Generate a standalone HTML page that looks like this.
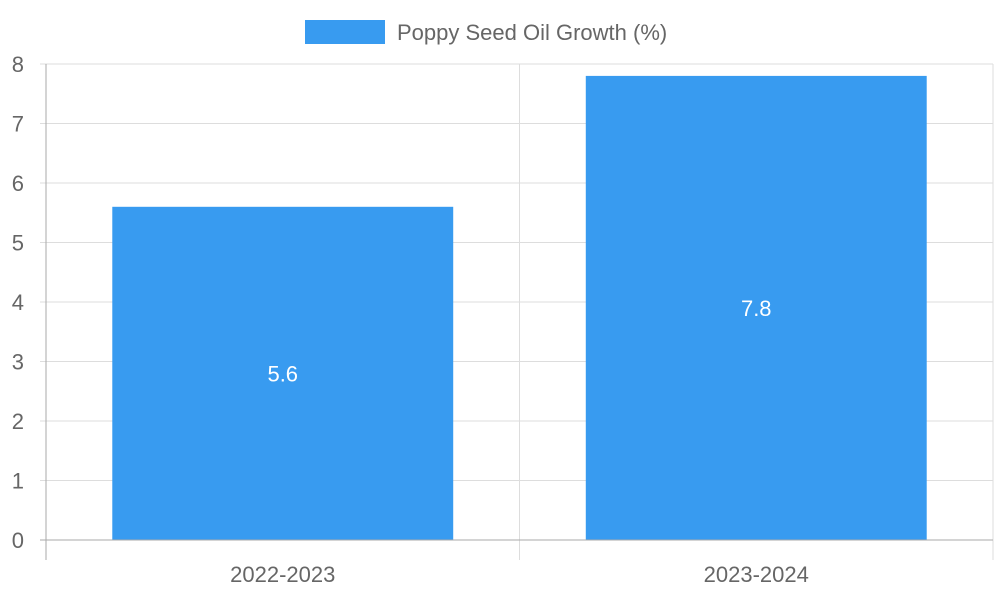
<!DOCTYPE html>
<html><head><meta charset="utf-8">
<style>
html,body{margin:0;padding:0;background:#fff;}
svg{display:block;font-family:"Liberation Sans",sans-serif;}
</style></head>
<body>
<svg id="chart" width="1000" height="600">
  <g id="legend">
    <rect x="305" y="20" width="80" height="24" fill="#389bf0"/>
    <text x="397" y="40" font-size="22" fill="#666">Poppy Seed Oil Growth (%)</text>
  </g>
  <g id="grid"></g>
  <g id="bars"></g>
  <g id="axes"></g>
</svg>
<script>
const categories = ["2022-2023", "2023-2024"];
const values = [5.6, 7.8];
const yTicks = [0, 1, 2, 3, 4, 5, 6, 7, 8];

const NS = "http://www.w3.org/2000/svg";
const L = 46, R = 993, T = 64, B = 540, yMax = 8;
const y = v => B - (v / yMax) * (B - T);
const band = (R - L) / categories.length;
const xc = i => L + band * (i + 0.5);
function mk(tag, attrs, parent) {
  const e = document.createElementNS(NS, tag);
  for (const k in attrs) e.setAttribute(k, attrs[k]);
  parent.appendChild(e);
  return e;
}
const grid = document.getElementById("grid");
const bars = document.getElementById("bars");
const axes = document.getElementById("axes");

yTicks.forEach(t => {
  const g = mk("line", {x1: L - 6, x2: R, y1: y(t), y2: y(t), stroke: t === 0 ? "#aaa" : "#ddd", "stroke-width": 1}, t === 0 ? axes : grid);
  
  
  const lb = mk("text", {x: 24, y: y(t) + 8, "font-size": 22, fill: "#666", "text-anchor": "end"}, axes);
  lb.textContent = t;
  
  
});
for (let i = 0; i <= categories.length; i++) {
  const x = L + band * i;
  const vl = mk("line", {x1: x, x2: x, y1: T, y2: B + 20, stroke: i === 0 ? "#aaa" : "#ddd", "stroke-width": 1}, i === 0 ? axes : grid);
  
  
}
categories.forEach((c, i) => {
  const w = band * 0.72;
  const r = mk("rect", {x: xc(i) - w / 2, y: y(values[i]), width: w, height: B - y(values[i]), fill: "#389bf0"}, bars);
  
  
  const vt = mk("text", {x: xc(i), y: (y(values[i]) + B) / 2 + 8, "font-size": 22, fill: "#fff", "text-anchor": "middle"}, bars);
  vt.textContent = values[i];
  
  
  const xl = mk("text", {x: xc(i), y: 582, "font-size": 22, fill: "#666", "text-anchor": "middle"}, axes);
  xl.textContent = c;
  
  
});
</script>
</body></html>
